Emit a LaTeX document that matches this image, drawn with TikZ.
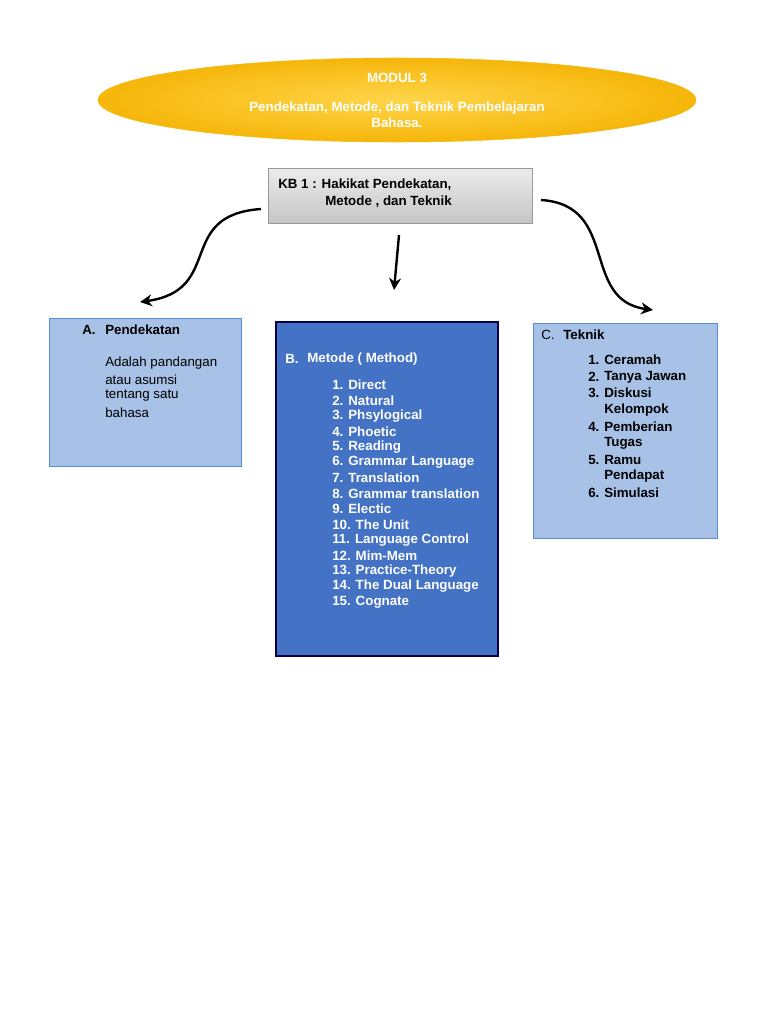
\documentclass[tikz,border=0pt]{standalone}
\usepackage{fontspec}
\setmainfont{Liberation Sans}
\usetikzlibrary{shapes.geometric,arrows.meta}
\definecolor{orng}{HTML}{F6B60A}
\definecolor{yel}{HTML}{FFD54A}
\definecolor{boxa}{HTML}{A7C2E6}
\definecolor{boxb}{HTML}{4472C4}
\definecolor{bordb}{HTML}{5B8BD0}
\begin{document}
\begin{tikzpicture}[x=0.75pt,y=-0.75pt,
  txt/.style={anchor=west,inner sep=0pt,font=\fontsize{10}{12}\selectfont\bfseries},
  ntxt/.style={anchor=west,inner sep=0pt,font=\fontsize{10}{12}\selectfont},
  arr/.style={line width=1.8pt,-{Stealth[length=9pt,width=9pt]}}]
\useasboundingbox (0,0) rectangle (768,1024);
\fill[white] (0,0) rectangle (768,1024);
\node[ellipse,minimum width=598*0.75pt,minimum height=84*0.75pt,inner color=yel,outer color=orng,draw=orng] (ell) at (397,100) {};
\node[font=\fontsize{10}{12}\selectfont\bfseries,text=white] at (397,78) {MODUL 3};
\node[font=\fontsize{10}{12}\selectfont\bfseries,text=white,align=center] at (397,115) {Pendekatan, Metode, dan Teknik Pembelajaran\\Bahasa.};
\node[draw=gray!80,top color=gray!15,bottom color=gray!45,minimum width=264*0.75pt,minimum height=55*0.75pt,inner sep=0pt] (kb) at (400,195.5) {};
\node[txt] at (278,185) {KB 1 : Hakikat Pendekatan,};
\node[txt] at (325,202) {Metode , dan Teknik};
\node[draw=bordb,fill=boxa,minimum width=192*0.75pt,minimum height=148*0.75pt,inner sep=0pt] (a) at (145,392) {};
\node[txt] at (82,330) {A.};
\node[txt] at (105,330) {Pendekatan};
\foreach \t [count=\i from 0] in {Adalah pandangan,atau asumsi,tentang satu,bahasa}
  \node[ntxt] at (105,363+16.5*\i) {\t};
\node[draw=black!70!blue,fill=boxb,line width=0.8pt,minimum width=222*0.75pt,minimum height=334*0.75pt,inner sep=0pt] (b) at (387,489) {};
\node[txt,text=white] at (285,359) {B.};
\node[txt,text=white] at (307,359) {Metode ( Method)};
\foreach \t [count=\i from 0] in {1. Direct,2. Natural,3. Phsylogical,4. Phoetic,5. Reading,6. Grammar Language,7. Translation,8. Grammar translation,9. Electic,10. The Unit,11. Language Control,12. Mim-Mem,13. Practice-Theory,14. The Dual Language,15. Cognate}
  \node[txt,text=white] at (332,385+15.5*\i) {\t};
\node[draw=bordb,fill=boxa,minimum width=184*0.75pt,minimum height=215*0.75pt,inner sep=0pt] (c) at (625,430.5) {};
\node[ntxt] at (541,335) {C.};
\node[txt] at (563,335) {Teknik};
\foreach \n/\t/\y in {1./Ceramah/360,2./Tanya Jawan/377,3./Diskusi/393,/Kelompok/410,4./Pemberian/427,/Tugas/443,5./Ramu/460,/Pendapat/476,6./Simulasi/493}{
  \node[txt] at (588,\y) {\n};
  \node[txt] at (604,\y) {\t};}
\coordinate (l1) at (261,209); \coordinate (l2) at (140,302);
\coordinate (m1) at (399,235); \coordinate (m2) at (394,290);
\coordinate (r1) at (541,200); \coordinate (r2) at (653,310);
\draw[arr] (l1) .. controls (175,215) and (225,290) .. (l2);
\draw[arr] (m1) -- (m2);
\draw[arr] (r1) .. controls (620,205) and (580,300) .. (r2);
\end{tikzpicture}
\end{document}
